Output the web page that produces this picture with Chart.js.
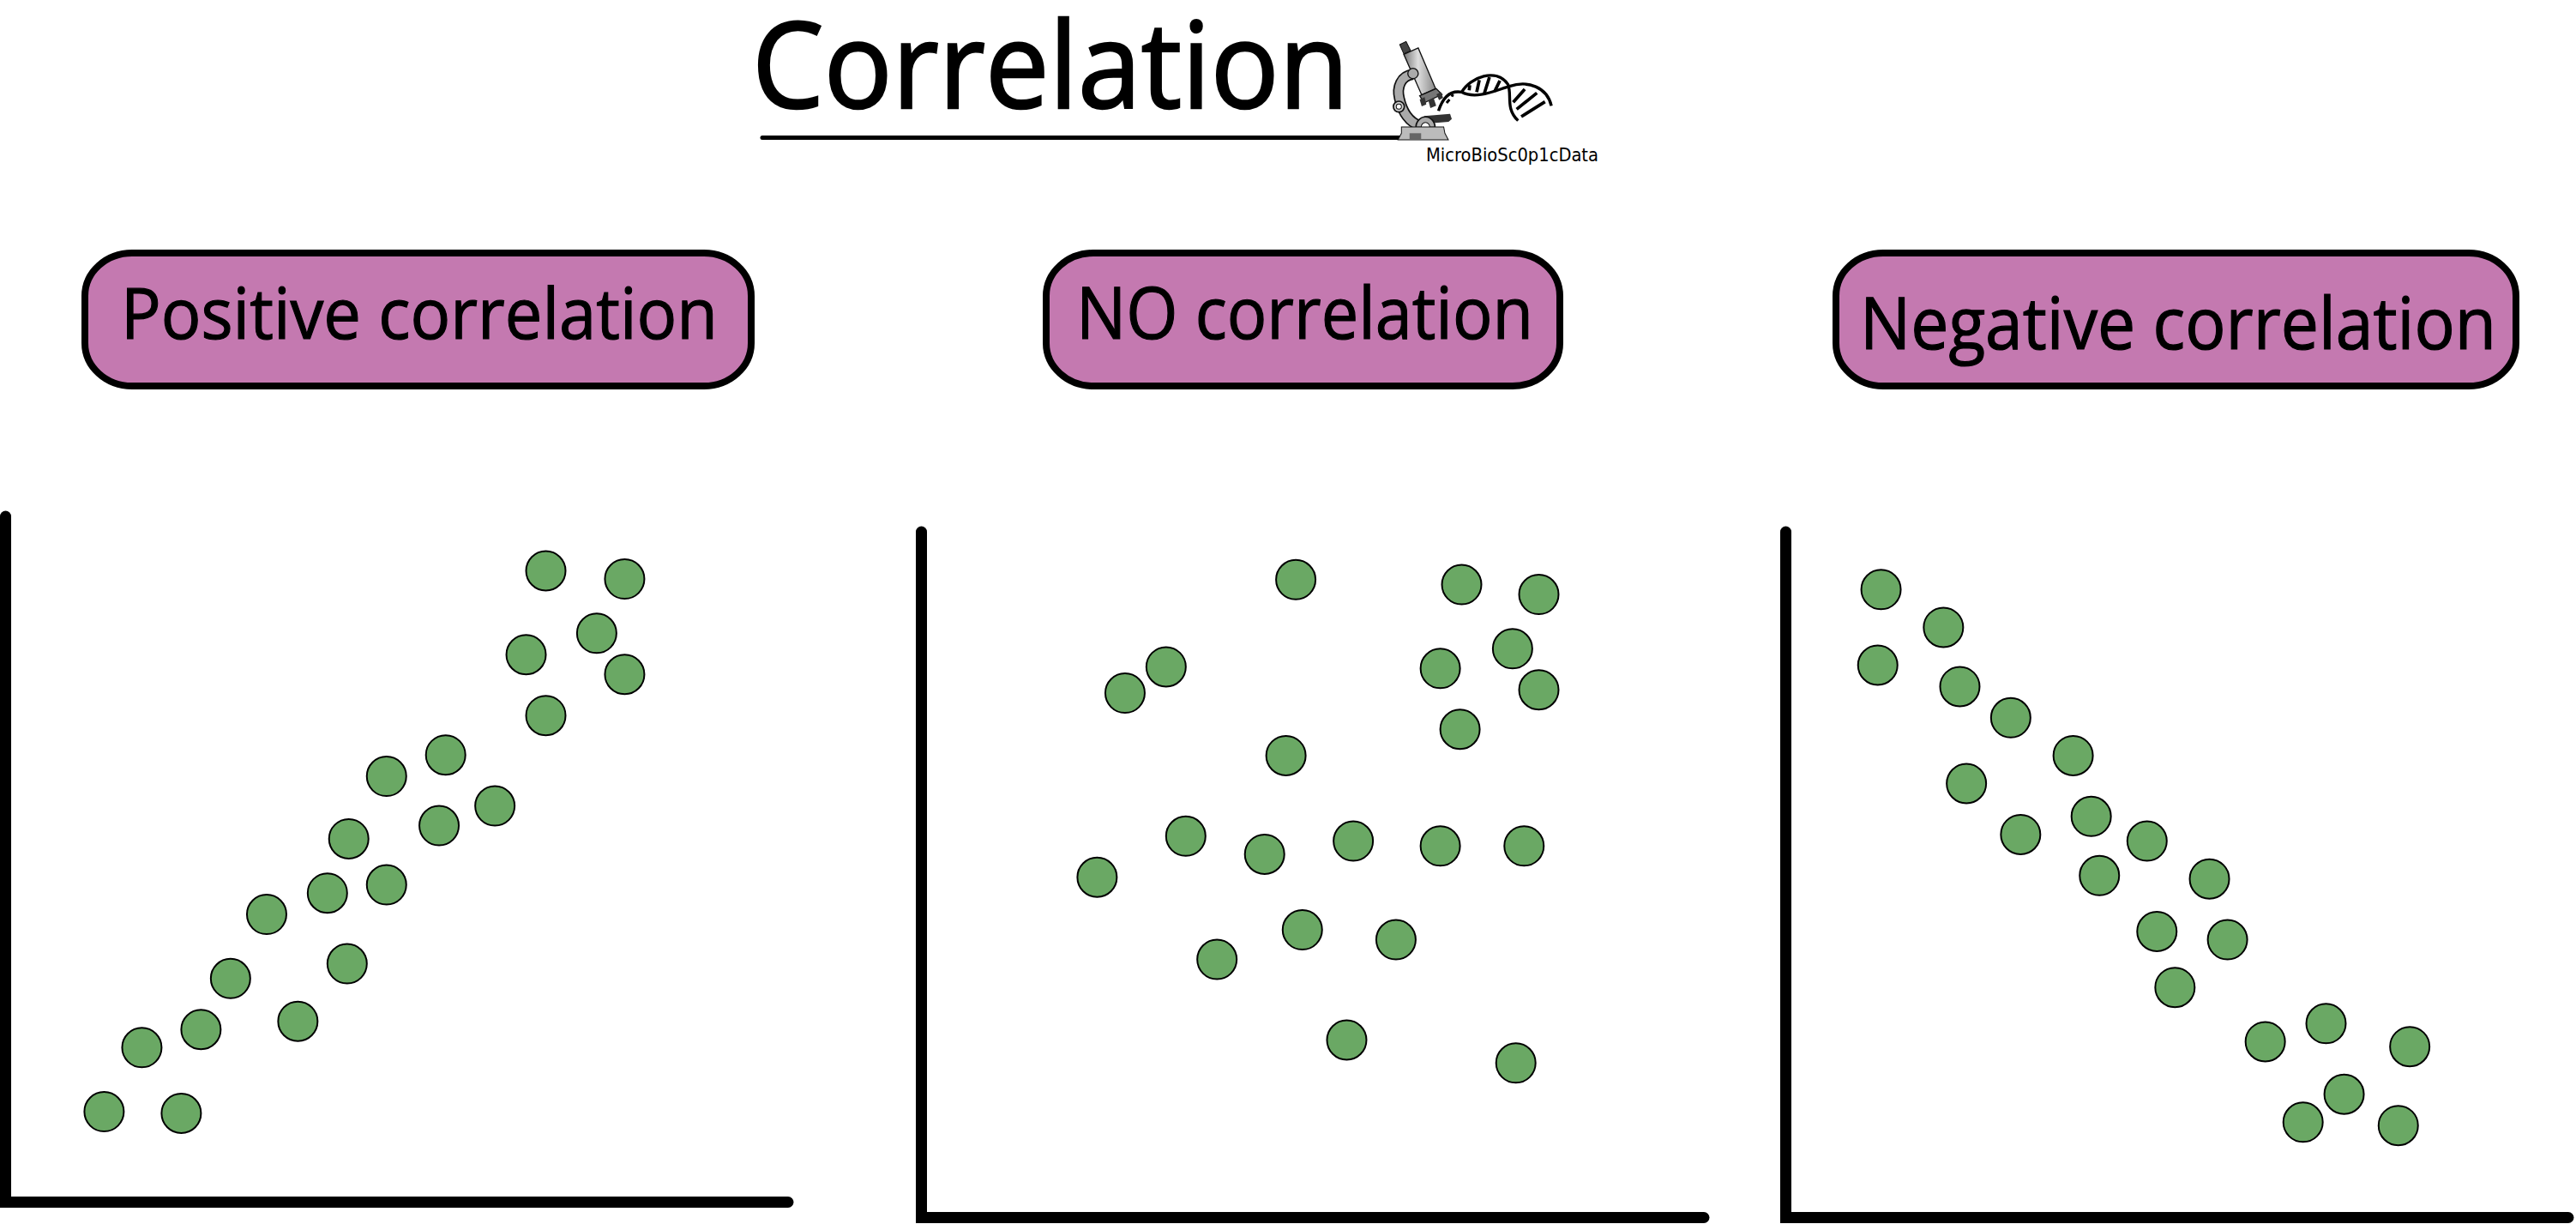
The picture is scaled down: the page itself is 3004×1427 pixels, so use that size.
<!DOCTYPE html>
<html>
<head>
<meta charset="utf-8">
<title>Correlation</title>
<script src="https://cdn.jsdelivr.net/npm/chart.js@4"></script>
<style>
  html, body { margin: 0; padding: 0; background: #fff; }
  body { width: 3004px; height: 1427px; position: relative; overflow: hidden; }
  svg.over { position: absolute; left: 0; top: 0; }
  svg text { font-family: "Open Sans", sans-serif; fill: #000; }
  canvas { position: absolute; }
</style>
</head>
<body>
<svg class="over" width="3004" height="1427" viewBox="0 0 3004 1427">
  <defs>
    <linearGradient id="tube" x1="0" y1="0" x2="1" y2="0">
      <stop offset="0" stop-color="#777"/><stop offset=".45" stop-color="#ddd"/><stop offset="1" stop-color="#888"/>
    </linearGradient>
  </defs>
  <text x="877" y="126" font-size="140" textLength="696" lengthAdjust="spacingAndGlyphs" stroke="#000" stroke-width="2.5">Correlation</text>
  <line x1="889" y1="160.5" x2="1636" y2="160.5" stroke="#000" stroke-width="5" stroke-linecap="round"/>

  <g transform="translate(1610,30) scale(.3375,.3333)">
    <path d="M112 170 C70 175 55 215 65 255 C75 300 95 335 135 350" fill="none" stroke="#111" stroke-width="38"/>
    <path d="M112 170 C70 175 55 215 65 255 C75 300 95 335 135 350" fill="none" stroke="#aaa" stroke-width="28"/>
    <polygon points="66,66 88,55 104,88 80,98" fill="#444" stroke="#111" stroke-width="3"/>
    <polygon points="80,100 130,78 190,220 142,242" fill="url(#tube)" stroke="#111" stroke-width="4"/>
    <polygon points="135,245 192,220 212,240 150,270" fill="#777" stroke="#111" stroke-width="4"/>
    <polygon points="135,258 152,250 158,275 142,282" fill="#333"/>
    <polygon points="165,262 183,252 192,280 172,288" fill="#333"/>
    <polygon points="193,240 208,232 216,252 202,260" fill="#333"/>
    <circle cx="112" cy="167" r="18" fill="#aaa" stroke="#111" stroke-width="4"/>
    <circle cx="63" cy="283" r="19" fill="#ccc" stroke="#111" stroke-width="5"/>
    <circle cx="63" cy="283" r="9" fill="#fff" stroke="#111" stroke-width="3"/>
    <polygon points="150,316 240,308 246,326 235,336 190,340 155,335" fill="#333"/>
    <path d="M122 356 A32 36 0 0 1 188 356 Z" fill="#aaa" stroke="#111" stroke-width="5"/>
    <path d="M140 356 A15 18 0 0 1 170 356 Z" fill="#fff" stroke="#111" stroke-width="3"/>
    <polygon points="72,354 218,354 222,376 234,399 60,399 72,376" fill="#bbb" stroke="#111" stroke-width="3"/>
    <rect x="100" y="376" width="40" height="22" fill="#666"/>

    <path d="M200 298 C215 250 240 225 280 232 C310 180 400 145 440 205 C455 240 430 290 475 332" fill="none" stroke="#000" stroke-width="10"/>
    <path d="M280 232 C330 260 400 225 445 212 C510 190 575 215 590 280" fill="none" stroke="#000" stroke-width="10"/>
    <path d="M308 208 L306 226 M341 190 L332 232 M376 180 L358 238 M412 192 L394 230 M498 222 L458 268 M540 235 L470 292 M568 266 L486 318" stroke="#000" stroke-width="11" fill="none"/>
    <path d="M228 270 L238 258 M250 240 L246 248" stroke="#000" stroke-width="9" fill="none"/>
  </g>
  <text x="1663" y="188" font-size="22" textLength="201" lengthAdjust="spacingAndGlyphs" style='font-family:"DejaVu Sans",sans-serif'>MicroBioSc0p1cData</text>

  <rect x="99" y="295" width="777" height="155" rx="55" ry="50" fill="#c479b0" stroke="#000" stroke-width="8"/>
  <rect x="1220" y="295" width="599" height="155" rx="55" ry="50" fill="#c479b0" stroke="#000" stroke-width="8"/>
  <rect x="2141" y="295" width="793" height="155" rx="55" ry="50" fill="#c479b0" stroke="#000" stroke-width="8"/>
  <text x="141" y="395" font-size="83" textLength="696" lengthAdjust="spacingAndGlyphs" stroke="#000" stroke-width="1.2">Positive correlation</text>
  <text x="1255" y="395" font-size="84" textLength="533" lengthAdjust="spacingAndGlyphs" stroke="#000" stroke-width="1.2">NO correlation</text>
  <text x="2169" y="407" font-size="84" textLength="742" lengthAdjust="spacingAndGlyphs" stroke="#000" stroke-width="1.2">Negative correlation</text>
</svg>

<canvas id="positive"></canvas>
<canvas id="none"></canvas>
<canvas id="negative"></canvas>

<script>
// Point values (distance from each panel's axes)
const positiveX = [329, 377, 360, 317, 377, 329, 268, 232, 298, 264, 209, 232, 196, 159, 208, 137, 178, 119, 83, 60, 107];
const positiveY = [384, 379, 346, 333, 321, 296, 272, 259, 241, 229, 221, 193, 188, 175, 145, 136, 110, 105, 94, 55, 54];

const noneX = [228, 329, 376, 360, 316, 376, 328, 149, 124, 222, 161, 209, 263, 316, 367, 107, 232, 289, 180, 259, 362];
const noneY = [388, 385, 379, 346, 334, 321, 297, 335, 319, 281, 232, 221, 229, 226, 226, 207, 175, 169, 157, 108, 94];

const negativeX = [58, 96, 56, 106, 137, 175, 110, 186, 143, 220, 191, 258, 226, 269, 237, 292, 329, 380, 340, 315, 373];
const negativeY = [382, 359, 336, 323, 304, 281, 264, 244, 233, 229, 208, 206, 174, 169, 140, 107, 118, 104, 75, 58, 56];

const unit = 3004 / 1568; // page pixels per data unit
const axisWidth = 13;

// Round ends on the axis lines. The canvas edge cuts off the caps at the corner.
const roundAxisEnds = {
  id: 'roundAxisEnds',
  beforeDraw(chart) {
    chart.ctx.lineCap = 'round';
  }
};

// Draw one panel: origin is where the two axes cross, xMax/yMax are the axis lengths in data units
function drawPanel(id, xs, ys, originX, originY, xMax, yMax) {
  const near = axisWidth / 2;
  const far = axisWidth;
  const canvas = document.getElementById(id);
  canvas.width = Math.round(xMax * unit + near + far);
  canvas.height = Math.round(yMax * unit + near + far);
  canvas.style.left = (originX - near) + 'px';
  canvas.style.top = (originY + near - canvas.height) + 'px';

  new Chart(canvas, {
    type: 'scatter',
    data: {
      datasets: [{
        data: xs.map((x, i) => ({ x: x, y: ys[i] })),
        backgroundColor: '#6aa864',
        borderColor: '#000',
        borderWidth: 2,
        pointRadius: 23,
        pointHoverRadius: 23
      }]
    },
    plugins: [roundAxisEnds],
    options: {
      responsive: false,
      animation: false,
      events: [],
      layout: { padding: { left: near, bottom: near, top: far, right: far }, autoPadding: false },
      plugins: { legend: { display: false }, tooltip: { enabled: false } },
      scales: {
        x: {
          min: 0, max: xMax,
          grid: { display: false, drawTicks: false },
          ticks: { display: false },
          border: { display: true, color: '#000', width: axisWidth }
        },
        y: {
          min: 0, max: yMax,
          grid: { display: false, drawTicks: false },
          ticks: { display: false },
          border: { display: true, color: '#000', width: axisWidth }
        }
      }
    }
  });
}

drawPanel('positive', positiveX, positiveY, 6.5, 1401.5, 476, 414);
drawPanel('none', noneX, noneY, 1074.5, 1419.5, 476, 414);
drawPanel('negative', negativeX, negativeY, 2082.5, 1419.5, 476, 414);
</script>
</body>
</html>
